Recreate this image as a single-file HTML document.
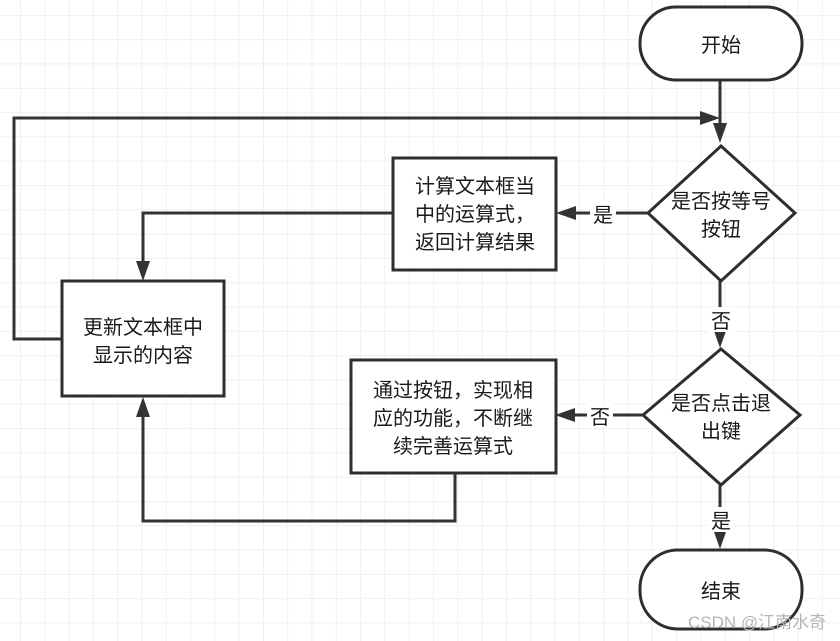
<!DOCTYPE html>
<html><head><meta charset="utf-8"><style>
html,body{margin:0;padding:0;background:#fff;}
svg{display:block;}
text{font-family:"Liberation Sans","Noto Sans CJK SC",sans-serif;font-size:20px;fill:#1a1a1a;}
</style></head><body>
<svg width="840" height="641" viewBox="0 0 840 641" xmlns="http://www.w3.org/2000/svg">
<defs>
<pattern id="g" x="20" y="15" width="24.3" height="24.3" patternUnits="userSpaceOnUse">
<path d="M0 0H24.3M0 0V24.3" stroke="#ebebeb" stroke-width="1.5" fill="none"/>
</pattern>
</defs>
<rect width="840" height="641" fill="url(#g)"/>
<g stroke="#333" stroke-width="3" fill="none">
<path d="M720 80V124"/>
<path d="M62 339H14V118H702"/>
<path d="M648 213H574"/>
<path d="M393 213H143V263"/>
<path d="M720 281V330"/>
<path d="M643 415H573"/>
<path d="M720 485V531"/>
<path d="M455 473V521H143V415"/>
</g>
<g fill="#333">
<polygon points="720,143 713,123 727,123"/>
<polygon points="720,118 700,111 700,125"/>
<polygon points="556,213 576,206 576,220"/>
<polygon points="143,281 136,261 150,261"/>
<polygon points="720,348 713,328 727,328"/>
<polygon points="555,415 575,408 575,422"/>
<polygon points="720,549 713,529 727,529"/>
<polygon points="143,397 136,417 150,417"/>
</g>
<g stroke="#2b2f33" stroke-width="3" fill="#fff">
<rect x="640" y="7" width="162" height="73" rx="36"/>
<rect x="640" y="550" width="162" height="79" rx="38"/>
<polygon points="721,146 795,213 721,281 648,213"/>
<polygon points="721,349 800,415 721,485 643,415"/>
<rect x="393" y="158" width="163" height="112"/>
<rect x="62" y="281" width="162" height="115"/>
<rect x="351" y="360" width="205" height="113"/>
</g>
<rect x="590" y="202" width="26" height="24" fill="#fff"/>
<rect x="708" y="307" width="26" height="25" fill="#fff"/>
<rect x="587" y="403" width="26" height="24" fill="#fff"/>
<rect x="708" y="507" width="26" height="25" fill="#fff"/>
<g text-anchor="middle">
<text x="721" y="52">开始</text>
<text x="721" y="598">结束</text>
<text x="721" y="208">是否按等号</text>
<text x="721" y="236">按钮</text>
<text x="721" y="410">是否点击退</text>
<text x="721" y="438">出键</text>
<text x="475" y="193">计算文本框当</text>
<text x="475" y="221">中的运算式，</text>
<text x="475" y="249">返回计算结果</text>
<text x="143" y="334">更新文本框中</text>
<text x="143" y="362">显示的内容</text>
<text x="453" y="397">通过按钮，实现相</text>
<text x="453" y="425">应的功能，不断继</text>
<text x="453" y="453">续完善运算式</text>
<text x="603" y="222">是</text>
<text x="721" y="328">否</text>
<text x="600" y="424">否</text>
<text x="721" y="528">是</text>
</g>
<text x="688" y="628" style="font-size:17px;fill:#b5b5b5">CSDN @江南水奇</text>
</svg>
</body></html>
